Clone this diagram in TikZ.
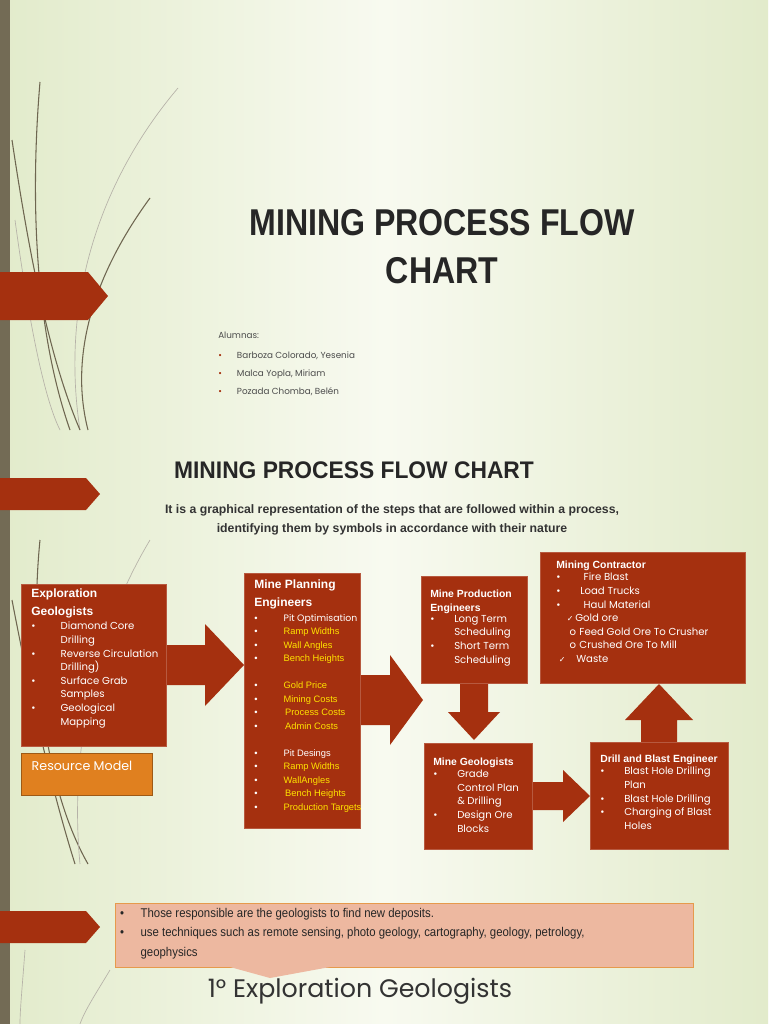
\documentclass[tikz,border=0pt]{standalone}
\usepackage{fontspec}
\setmainfont{Liberation Sans}
\newfontfamily\gothic{Poppins}
\usetikzlibrary{shapes.arrows}
\definecolor{boxred}{HTML}{A5300F}
\definecolor{bar}{HTML}{736B55}
\definecolor{grass}{HTML}{6E6650}
\definecolor{yel}{HTML}{FFE300}
\definecolor{orng}{HTML}{E0801F}
\definecolor{salmon}{HTML}{EDB8A0}
\definecolor{bgedge}{HTML}{E2EBCB}
\definecolor{bgmid}{HTML}{F8FAF0}
\newcommand{\itm}[1]{\makebox[22pt][l]{\textbullet}#1}
\newcommand{\cnt}[1]{\makebox[22pt][l]{}#1}
\newcommand{\yit}[1]{\makebox[22pt][l]{\textbullet}\textcolor{yel}{#1}}
\tikzset{
  rbox/.style={fill=boxred,draw=boxred!80!white,line width=0.6pt},
  rarrow/.style={fill=boxred},
  btxt/.style={anchor=north west,align=left,text=white,font=\gothic\fontsize{7.6}{10.2}\selectfont,inner sep=0pt},
  ttl/.style={anchor=north west,align=left,text=white,font=\bfseries\fontsize{8.3}{12.5}\selectfont,inner sep=0pt},
  tag/.style={fill=boxred},
  grassl/.style={draw=grass,line width=0.8pt},
  grassf/.style={draw=grass!50,line width=0.5pt}
}
\begin{document}
\begin{tikzpicture}[x=0.75pt,y=-0.75pt]
\useasboundingbox (0,0) rectangle (768,1024);
% backgrounds
\foreach \a/\b in {0/432,433/865,866/1024}{
  \shade[left color=bgedge,right color=bgedge,middle color=bgmid] (0,\a) rectangle (768,\b);
}
\fill[bar] (0,0) rectangle (10,1024);
% grass slide 1
\draw[grassl] (40,82) .. controls (30,200) and (35,330) .. (70,430);
\draw[grassl] (150,198) .. controls (90,280) and (70,360) .. (88,430);
\draw[grassf] (178,88) .. controls (100,180) and (60,300) .. (80,430);
\draw[grassl] (12,140) .. controls (30,260) and (50,360) .. (80,430);
\draw[grassf] (15,220) .. controls (30,330) and (45,400) .. (60,430);
% grass slide 2
\draw[grassl] (40,540) .. controls (30,640) and (40,780) .. (88,864);
\draw[grassf] (150,540) .. controls (90,640) and (70,760) .. (80,864);
\draw[grassl] (12,600) .. controls (35,720) and (55,800) .. (75,864);
% grass slide 3
\draw[grassf] (25,950) .. controls (22,990) and (20,1010) .. (20,1024);
\draw[grassf] (110,970) .. controls (95,995) and (85,1010) .. (80,1024);
% tags
\fill[tag] (0,272) -- (88,272) -- (108,296) -- (88,320) -- (0,320) -- cycle;
\fill[tag] (0,478) -- (86,478) -- (100,494) -- (86,510) -- (0,510) -- cycle;
\fill[tag] (0,911) -- (86,911) -- (100,927) -- (86,943) -- (0,943) -- cycle;
% slide 1 text
\node[font=\bfseries\fontsize{28}{30}\selectfont,align=center,text=black!85,xscale=0.86] (t1) at (442,247) {MINING PROCESS FLOW\\[6pt]CHART};
\node[anchor=north west,font=\gothic\fontsize{6.6}{13.5}\selectfont,text=black!70,align=left,inner sep=0pt] (al) at (218,332)
 {Alumnas:\\[1pt]
 \textcolor{boxred}{\makebox[14pt][l]{\textbullet}}Barboza Colorado, Yesenia\\
 \textcolor{boxred}{\makebox[14pt][l]{\textbullet}}Malca Yopla, Miriam\\
 \textcolor{boxred}{\makebox[14pt][l]{\textbullet}}Pozada Chomba, Belén};
% slide 2 header
\node[font=\bfseries\fontsize{18}{20}\selectfont,text=black!85,xscale=0.95] (t2) at (354,470) {MINING PROCESS FLOW CHART};
\node[font=\bfseries\fontsize{9.2}{14}\selectfont,text=black!80,align=center] (sub) at (392,520) {It is a graphical representation of the steps that are followed within a process,\\identifying them by symbols in accordance with their nature};
% arrows
\fill[rarrow] (160,645) -- (205,645) -- (205,624) -- (244,665) -- (205,706) -- (205,685) -- (160,685) -- cycle;
\fill[rarrow] (355,675) -- (390,675) -- (390,655) -- (423,700) -- (390,745) -- (390,725) -- (355,725) -- cycle;
\fill[rarrow] (460,680) -- (488,680) -- (488,712) -- (500,712) -- (474,740) -- (448,712) -- (460,712) -- cycle;
\fill[rarrow] (528,782) -- (563,782) -- (563,770) -- (590,796) -- (563,822) -- (563,810) -- (528,810) -- cycle;
\fill[rarrow] (641,745) -- (641,720) -- (625,720) -- (659,684) -- (693,720) -- (677,720) -- (677,745) -- cycle;
% boxes
\draw[rbox] (21,584) rectangle (166,746) coordinate (expl);
\fill[orng] (21,753) rectangle (152,795);
\draw[orng!70!black,line width=0.4pt] (21,753) rectangle (152,795);
\node[anchor=west,text=white,font=\gothic\fontsize{9.5}{11}\selectfont] (rm) at (27,766) {Resource Model};
\draw[rbox] (244,573) rectangle (360,828);
\draw[rbox] (421,576) rectangle (527,683);
\draw[rbox] (424,743) rectangle (532,849);
\draw[rbox] (590,742) rectangle (728,849);
\draw[rbox] (540,552) rectangle (745,683);
% box texts
\node[ttl,font=\bfseries\fontsize{9}{12.8}\selectfont] (e1) at (31,589) {Exploration\\Geologists};
\node[btxt] (e2) at (31,622) {\itm{Diamond Core}\\\cnt{Drilling}\\\itm{Reverse Circulation}\\\cnt{Drilling)}\\\itm{Surface Grab}\\\cnt{Samples}\\\itm{Geological}\\\cnt{Mapping}};
\node[ttl,font=\bfseries\fontsize{9}{12.8}\selectfont] (p1) at (254,580) {Mine Planning\\Engineers};
\node[btxt,font=\fontsize{7}{10.15}\selectfont] (p2) at (254,614) {\itm{\gothic Pit Optimisation}\\\yit{Ramp Widths}\\\yit{Wall Angles}\\\yit{Bench Heights}\\[10pt]\yit{Gold Price}\\\yit{Mining Costs}\\\yit{\,Process Costs}\\\yit{\,Admin Costs}\\[10pt]\itm{Pit Desings}\\\yit{Ramp Widths}\\\yit{WallAngles}\\\yit{\,Bench Heights}\\\yit{Production Targets}};
\node[ttl,font=\bfseries\fontsize{7.8}{10}\selectfont] (mp1) at (430,590) {Mine Production\\Engineers};
\node[btxt] (mp2) at (430,615) {\makebox[18pt][l]{\textbullet}Long Term\\\makebox[18pt][l]{}Scheduling\\\makebox[18pt][l]{\textbullet}Short Term\\\makebox[18pt][l]{}Scheduling};
\node[ttl,font=\bfseries\fontsize{7.8}{10}\selectfont] (g1) at (433,758) {Mine Geologists};
\node[btxt] (g2) at (433,770) {\makebox[18pt][l]{\textbullet}Grade\\\makebox[18pt][l]{}Control Plan\\\makebox[18pt][l]{}\& Drilling\\\makebox[18pt][l]{\textbullet}Design Ore\\\makebox[18pt][l]{}Blocks};
\node[ttl,font=\bfseries\fontsize{7.8}{10}\selectfont] (d1) at (600,755) {Drill and Blast Engineer};
\node[btxt] (d2) at (600,767) {\makebox[18pt][l]{\textbullet}Blast Hole Drilling\\\makebox[18pt][l]{}Plan\\\makebox[18pt][l]{\textbullet}Blast Hole Drilling\\\makebox[18pt][l]{\textbullet}Charging of Blast\\\makebox[18pt][l]{}Holes};
\node[ttl,font=\bfseries\fontsize{7.8}{10}\selectfont] (c1) at (556,561) {Mining Contractor};
\node[btxt] (c2) at (556,573) {\makebox[18pt][l]{\textbullet}\,\,Fire Blast\\\makebox[18pt][l]{\textbullet}Load Trucks\\\makebox[18pt][l]{\textbullet}\,\,Haul Material\\\hspace*{8pt}{\fontspec{DejaVu Sans}\fontsize{6}{8}\selectfont ✓}\,Gold ore\\\hspace*{10pt}o\,\,Feed Gold Ore To Crusher\\\hspace*{10pt}o\,\,Crushed Ore To Mill\\\hspace*{2pt}{\fontspec{DejaVu Sans}\fontsize{6}{8}\selectfont ✓}\hspace{8pt}Waste};
% slide 3
\fill[salmon] (115,903) rectangle (693,967);
\draw[orng!80,line width=0.5pt] (115,903) rectangle (693,967);
\fill[salmon] (230,967) -- (330,967) -- (270,978) -- cycle;
\node[anchor=north west,align=left,inner sep=0pt,text=black!85,font=\fontsize{9.5}{14.5}\selectfont,xscale=0.9] (s3) at (120,908) {\makebox[17pt][l]{\textbullet}Those responsible are the geologists to find new deposits.\\\makebox[17pt][l]{\textbullet}use techniques such as remote sensing, photo geology, cartography, geology, petrology,\\\makebox[17pt][l]{}geophysics};
\node[font=\gothic\fontsize{19}{22}\selectfont,text=black!80] (h3) at (360,991) {1° Exploration Geologists};
\end{tikzpicture}
\end{document}
